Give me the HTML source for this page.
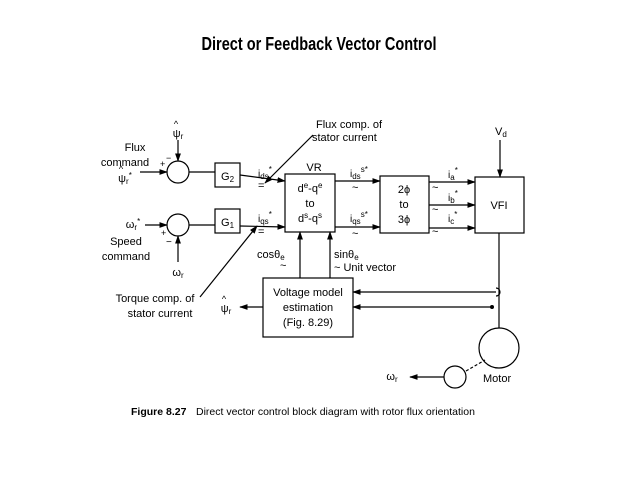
<!DOCTYPE html>
<html><head><style>body{margin:0;background:#fff}svg{display:block}</style></head><body>
<svg width="638" height="478" viewBox="0 0 638 478" xmlns="http://www.w3.org/2000/svg" font-family="Liberation Sans, sans-serif" fill="#000">
<defs><marker id="a" viewBox="0 0 10 10" refX="9" refY="5" markerWidth="7" markerHeight="7" orient="auto"><path d="M0,1.5L10,5L0,8.5z"/></marker></defs>
<text x="319" y="50" text-anchor="middle" font-size="18" font-weight="bold" textLength="235" lengthAdjust="spacingAndGlyphs">Direct or Feedback Vector Control</text>
<g stroke="#000" stroke-width="1.2" fill="none">
<circle cx="178" cy="172" r="11"/><circle cx="178" cy="225" r="11"/>
<rect x="215" y="163" width="25" height="24"/><rect x="215" y="209" width="25" height="24"/>
<rect x="285" y="174" width="50" height="58"/>
<rect x="380" y="176" width="49" height="57"/>
<rect x="475" y="177" width="49" height="56"/>
<rect x="263" y="278" width="90" height="59"/>
<circle cx="499" cy="348" r="20"/><circle cx="455" cy="377" r="11"/>
<line x1="178" y1="140" x2="178" y2="161" marker-end="url(#a)"/>
<line x1="140" y1="172" x2="167" y2="172" marker-end="url(#a)"/>
<line x1="189" y1="172" x2="215" y2="172"/>
<line x1="240" y1="175" x2="285" y2="181" marker-end="url(#a)"/>
<line x1="145" y1="225" x2="167" y2="225" marker-end="url(#a)"/>
<line x1="178" y1="262" x2="178" y2="236" marker-end="url(#a)"/>
<line x1="189" y1="225" x2="215" y2="225"/>
<line x1="240" y1="226" x2="285" y2="227" marker-end="url(#a)"/>
<line x1="335" y1="181" x2="380" y2="181" marker-end="url(#a)"/>
<line x1="335" y1="227" x2="380" y2="227" marker-end="url(#a)"/>
<line x1="429" y1="182" x2="475" y2="182" marker-end="url(#a)"/>
<line x1="429" y1="205" x2="475" y2="205" marker-end="url(#a)"/>
<line x1="429" y1="228" x2="475" y2="228" marker-end="url(#a)"/>
<line x1="500" y1="140" x2="500" y2="177" marker-end="url(#a)"/>
<line x1="499" y1="233" x2="499" y2="328"/>
<line x1="300" y1="278" x2="300" y2="232" marker-end="url(#a)"/>
<line x1="330" y1="278" x2="330" y2="232" marker-end="url(#a)"/>
<path d="M496,292 L353,292" marker-end="url(#a)"/>
<path d="M496,288 a4,4 0 0 1 0,8"/>
<line x1="492" y1="307" x2="353" y2="307" marker-end="url(#a)"/>
<line x1="263" y1="307" x2="240" y2="307" marker-end="url(#a)"/>
<line x1="444" y1="377" x2="410" y2="377" marker-end="url(#a)"/>
<line x1="466" y1="371" x2="485" y2="360" stroke-dasharray="3,2"/>
<line x1="313" y1="135" x2="265" y2="183" marker-end="url(#a)"/>
<line x1="200" y1="297" x2="257" y2="226" marker-end="url(#a)"/>
</g>
<circle cx="492" cy="307" r="2"/>
<g font-size="11">
<text x="178" y="137" text-anchor="middle">ψ<tspan font-size="8" dy="2">r</tspan></text><text x="176" y="127" text-anchor="middle" font-size="9">^</text>
<text x="135" y="151" text-anchor="middle">Flux</text>
<text x="125" y="166" text-anchor="middle">command</text>
<text x="125" y="182" text-anchor="middle">ψ<tspan font-size="8" dy="2">r</tspan><tspan font-size="8" dy="-6">*</tspan></text><text x="121" y="172" text-anchor="middle" font-size="9">^</text>
<text x="160" y="167" font-size="9">+</text><text x="166" y="161" font-size="9">−</text>
<text x="133" y="228" text-anchor="middle">ω<tspan font-size="8" dy="2">r</tspan><tspan font-size="8" dy="-6">*</tspan></text>
<text x="161" y="236" font-size="9">+</text><text x="166" y="245" font-size="10">−</text>
<text x="126" y="245" text-anchor="middle">Speed</text>
<text x="126" y="260" text-anchor="middle">command</text>
<text x="178" y="276" text-anchor="middle">ω<tspan font-size="8" dy="2">r</tspan></text>
<text x="221" y="180">G<tspan font-size="8" dy="2">2</tspan></text>
<text x="221" y="226">G<tspan font-size="8" dy="2">1</tspan></text>
<text x="258" y="177" font-size="10">i<tspan font-size="8" dy="2">ds</tspan><tspan font-size="8" dy="-7">*</tspan></text>
<text x="258" y="189">=</text>
<text x="258" y="222" font-size="10">i<tspan font-size="8" dy="2">qs</tspan><tspan font-size="8" dy="-7">*</tspan></text>
<text x="258" y="235">=</text>
<text x="314" y="171" text-anchor="middle">VR</text>
<text x="310" y="192" text-anchor="middle">d<tspan font-size="8" dy="-4">e</tspan><tspan dy="4">-q</tspan><tspan font-size="8" dy="-4">e</tspan></text>
<text x="310" y="207" text-anchor="middle">to</text>
<text x="310" y="222" text-anchor="middle">d<tspan font-size="8" dy="-4">s</tspan><tspan dy="4">-q</tspan><tspan font-size="8" dy="-4">s</tspan></text>
<text x="350" y="177" font-size="10">i<tspan font-size="8" dy="2">ds</tspan><tspan font-size="8" dy="-7">s*</tspan></text>
<text x="352" y="191">~</text>
<text x="350" y="222" font-size="10">i<tspan font-size="8" dy="2">qs</tspan><tspan font-size="8" dy="-7">s*</tspan></text>
<text x="352" y="237">~</text>
<text x="404" y="193" text-anchor="middle">2ϕ</text>
<text x="404" y="208" text-anchor="middle">to</text>
<text x="404" y="223" text-anchor="middle">3ϕ</text>
<text x="432" y="191">~</text><text x="432" y="213">~</text><text x="432" y="235">~</text>
<text x="448" y="178" font-size="10">i<tspan font-size="8" dy="2">a</tspan><tspan font-size="8" dy="-7">*</tspan></text>
<text x="448" y="201" font-size="10">i<tspan font-size="8" dy="2">b</tspan><tspan font-size="8" dy="-7">*</tspan></text>
<text x="448" y="222" font-size="10">i<tspan font-size="8" dy="2">c</tspan><tspan font-size="8" dy="-7">*</tspan></text>
<text x="499" y="209" text-anchor="middle">VFI</text>
<text x="495" y="135">V<tspan font-size="8" dy="2">d</tspan></text>
<text x="316" y="128">Flux comp. of</text>
<text x="312" y="141">stator current</text>
<text x="257" y="258">cosθ<tspan font-size="8" dy="2">e</tspan></text>
<text x="280" y="269">~</text>
<text x="334" y="258">sinθ<tspan font-size="8" dy="2">e</tspan></text>
<text x="334" y="271">~ Unit vector</text>
<text x="308" y="296" text-anchor="middle">Voltage model</text>
<text x="308" y="311" text-anchor="middle">estimation</text>
<text x="308" y="326" text-anchor="middle">(Fig. 8.29)</text>
<text x="155" y="302" text-anchor="middle">Torque comp. of</text>
<text x="160" y="317" text-anchor="middle">stator current</text>
<text x="226" y="312" text-anchor="middle">ψ<tspan font-size="8" dy="2">r</tspan></text><text x="224" y="302" text-anchor="middle" font-size="9">^</text>
<text x="392" y="380" text-anchor="middle">ω<tspan font-size="8" dy="2">r</tspan></text>
<text x="483" y="382">Motor</text>
</g>
<text x="131" y="415" font-size="10.5"><tspan font-weight="bold">Figure 8.27</tspan><tspan x="196">Direct vector control block diagram with rotor flux orientation</tspan></text>
</svg>
</body></html>
